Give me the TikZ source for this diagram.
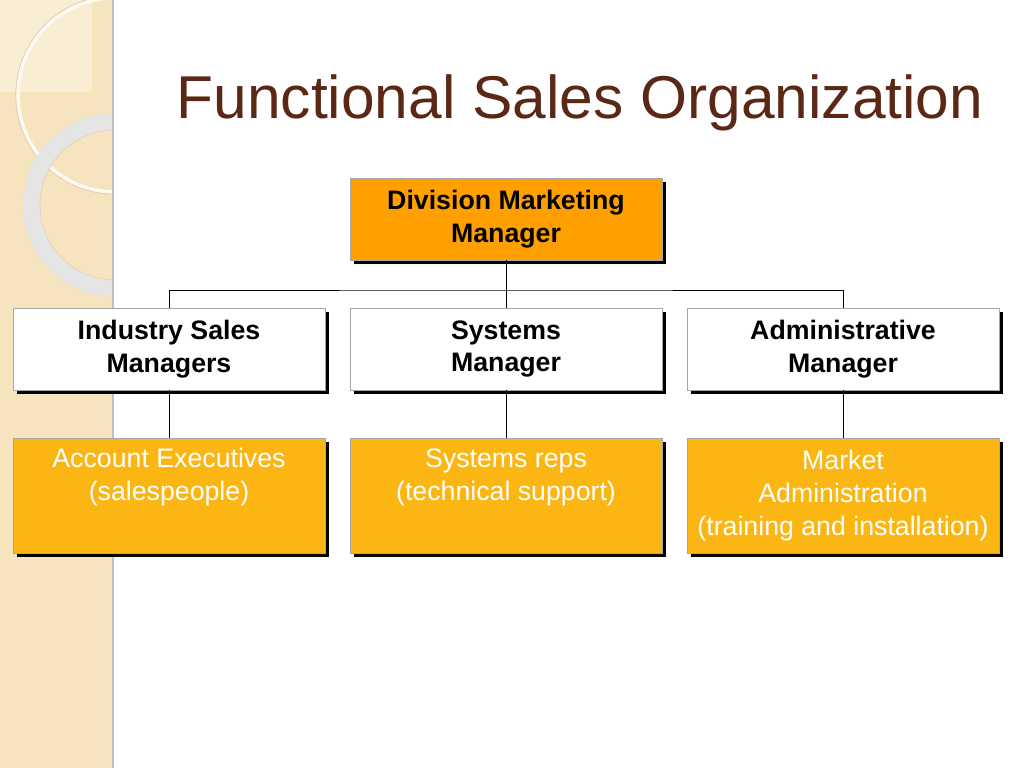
\documentclass[tikz,border=0pt]{standalone}
\usepackage{fontspec}
\setmainfont{Liberation Sans}
\usetikzlibrary{positioning}
\definecolor{titlebrown}{RGB}{92,40,22}
\definecolor{boxorange}{RGB}{255,160,0}
\definecolor{boxgold}{RGB}{252,182,20}
\definecolor{sidetan}{RGB}{246,228,190}
\tikzset{
    unitbox/.style = {draw = gray!70, minimum width = 312*0.025cm, align = center,
        font = \fontsize{19}{23.4}\selectfont\bfseries},
    shadowed/.style = {preaction = {fill = black, transform canvas = {shift = {(4*0.025cm, -4*0.025cm)}}}},
    headbox/.style = {unitbox, shadowed, fill = boxorange, minimum height = 82*0.025cm},
    midbox/.style = {unitbox, shadowed, fill = white, minimum height = 82*0.025cm},
    repbox/.style = {unitbox, shadowed, fill = boxgold, minimum height = 115*0.025cm,
        font = \fontsize{19}{23.4}\selectfont, text = white, anchor = north},
}
\begin{document}
\begin{tikzpicture}[x = 0.025cm, y = -0.025cm]
    \useasboundingbox (0, 0) rectangle (1024, 768);
    \fill [white] (0, 0) rectangle (1024, 768);

    % Sidebar
    \fill [sidetan] (0, 0) rectangle (113, 768);
    \begin{scope}
        \clip (0, 0) rectangle (113, 768);
        \fill [white, opacity=0.35] (0, 0) rectangle (92, 92);
        \draw [line width=0.8pt, brown!45] (115, 95) circle (99);
        \draw [line width=2.5pt, white!80!sidetan] (115, 95) circle (97);
        \fill [gray!20, even odd rule] (115, 205) circle (92) (115, 205) circle (75);
        \draw [brown!40, line width=0.4pt] (115, 205) circle (75);
    \end{scope}
    \draw [gray!50, line width=1pt] (113, 0) -- (113, 768);

    % Title
    \node [text = titlebrown, font = \fontsize{43}{50}\selectfont] (title) at (580, 103)
        {Functional Sales Organization};

    % Boxes
    \node [headbox] (dmm) at (506, 219) {Division Marketing\\Manager};
    \node [midbox] (ism) at (169, 349) {Industry Sales\\Managers};
    \node [midbox] (sm) at (506, 349) {Systems\\Manager};
    \node [midbox] (am) at (843, 349) {Administrative\\Manager};
    \node [repbox] (ae) at (169, 438) {Account Executives\\(salespeople)\\\strut};
    \node [repbox] (sr) at (506, 438) {Systems reps\\(technical support)\\\strut};
    \node [repbox] (ma) at (843, 438) {Market\\Administration\\(training and installation)};

    % Connectors
    \coordinate (bus) at (506, 290);
    \draw (dmm.south) -- (bus);
    \draw (ism.north) |- (bus) -| (am.north);
    \draw (bus) -- (sm.north);
    \draw (ism) -- (ae);
    \draw (sm) -- (sr);
    \draw (am) -- (ma);
\end{tikzpicture}
\end{document}
